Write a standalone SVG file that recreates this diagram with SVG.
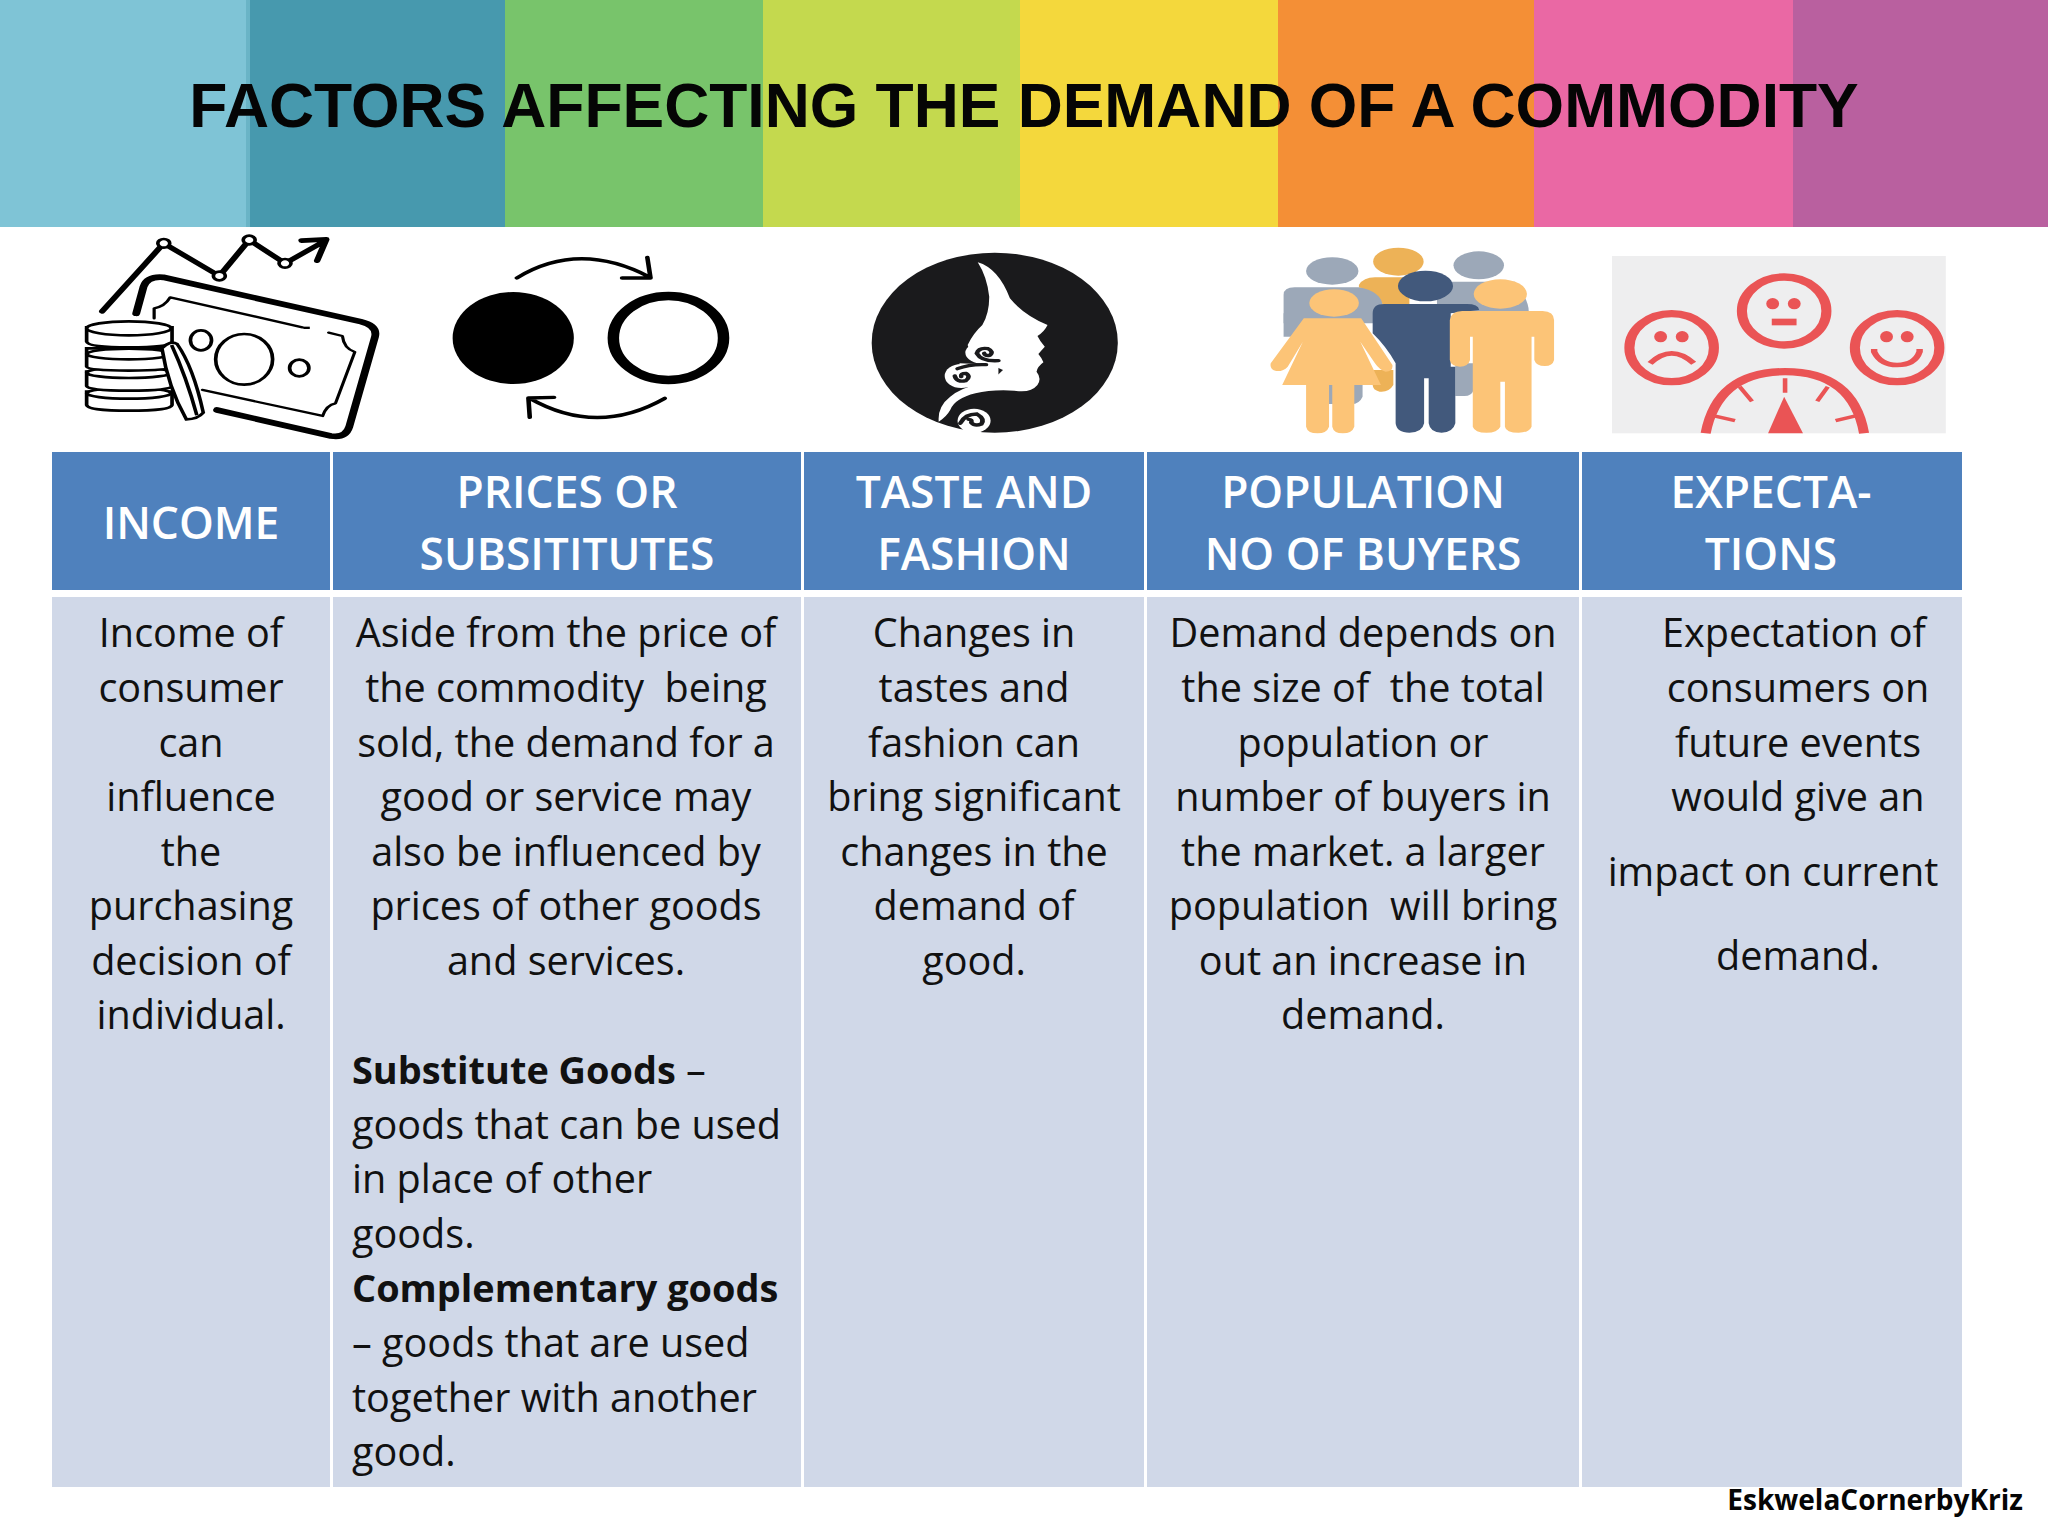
<svg xmlns="http://www.w3.org/2000/svg" width="2048" height="1536" viewBox="0 0 2048 1536">
<style>
text{font-family:"Open Sans","Noto Sans",sans-serif;fill:#111}
.t{font-size:39.6px;text-anchor:middle}
.l{font-size:39.6px}
.b{font-weight:700;font-size:37.9px}
.h{font-size:44.3px;font-weight:600;fill:#fff;text-anchor:middle}
.hb{fill:#4f81bd}
.bb{fill:#d0d8e8}
.k{fill:none;stroke:#000;stroke-linecap:round;stroke-linejoin:round}
.r{fill:none;stroke:#ea5455}
.rf{fill:#ea5455}
</style>
<rect width="2048" height="1536" fill="#fff"/>
<g id="band">
<rect x="0" y="0" width="246" height="227" fill="#7fc4d6"/>
<rect x="246" y="0" width="4" height="227" fill="#6ab4c6"/>
<rect x="250" y="0" width="255" height="227" fill="#4799ae"/>
<rect x="505" y="0" width="258" height="227" fill="#78c46b"/>
<rect x="763" y="0" width="257" height="227" fill="#c4d94e"/>
<rect x="1020" y="0" width="258" height="227" fill="#f4d83c"/>
<rect x="1278" y="0" width="256" height="227" fill="#f48f36"/>
<rect x="1534" y="0" width="259" height="227" fill="#ea68a4"/>
<rect x="1793" y="0" width="255" height="227" fill="#b9609f"/>
</g>
<text id="title" x="1024" y="127" text-anchor="middle" style="font-family:'Liberation Sans',Arial,sans-serif;font-weight:700;font-size:62.4px;fill:#050505">FACTORS AFFECTING THE DEMAND OF A COMMODITY</text>

<g id="icon-income" transform="translate(60,220) scale(.4592,.3333)">
<path class="k" stroke-width="14" d="M92 274L226 70L347 168L412 60L490 130L578 62M526 62L580 58L560 122"/>
<g fill="#fff" stroke="#000" stroke-width="8"><circle cx="226" cy="70" r="13"/><circle cx="347" cy="168" r="13"/><circle cx="412" cy="60" r="13"/><circle cx="490" cy="130" r="13"/></g>
<path class="k" stroke-width="17" d="M166 280L182 200Q190 168 225 172L655 305Q692 318 686 350L630 620Q622 655 590 648L342 570"/>
<path class="k" stroke-width="7" d="M205 295L205 265Q228 260 240 232L528 322M585 338L615 348Q618 385 642 396L600 550Q580 555 572 588L310 510"/>
<g fill="none" stroke="#000" stroke-width="8"><ellipse cx="307" cy="361" rx="23" ry="30"/><ellipse cx="401" cy="418" rx="62" ry="76"/><ellipse cx="521" cy="444" rx="21" ry="25"/></g>
<rect x="530" y="320" width="14" height="7" fill="#000"/>
<g fill="#fff" stroke="#000" stroke-width="8">
<path d="M58 515V555Q60 572 150 572Q242 572 244 555V515Z"/><ellipse cx="150" cy="520" rx="92" ry="16"/>
<path d="M58 455V498Q60 512 150 512Q242 512 244 498V455Z"/><ellipse cx="150" cy="458" rx="92" ry="16"/>
<path d="M58 385V440Q60 452 150 452Q242 452 244 440V385Z"/><ellipse cx="150" cy="402" rx="92" ry="16"/>
<path d="M58 322V365Q60 382 150 382Q242 382 244 365V322Z"/><ellipse cx="150" cy="325" rx="92" ry="21"/>
<path d="M222 385Q240 360 255 372Q290 440 312 578Q300 598 275 598Q235 500 222 385Z"/>
<path d="M243 375Q275 470 298 586" fill="none"/>
</g>
</g>

<g id="icon-prices" transform="translate(60,220) scale(.4592,.3333)">
<ellipse cx="987" cy="354" rx="132" ry="138" fill="#000"/>
<ellipse cx="1325" cy="354" rx="120" ry="126" fill="none" stroke="#000" stroke-width="25"/>
<path class="k" stroke-width="10" d="M995 174Q1130 60 1285 172M1224 174H1286L1279 112"/>
<path class="k" stroke-width="10" d="M1317 535Q1170 650 1023 535M1076 532L1020 534L1023 592"/>
</g>

<g id="icon-taste" transform="translate(840,230) scale(.4592,.3333)">
<ellipse cx="337" cy="338" rx="268" ry="270" fill="#1a1a1c"/>
<path fill="#fff" d="M300 97Q345 115 370 205Q400 255 452 285Q445 305 430 318Q436 335 446 350Q438 362 432 372Q440 385 443 397Q430 410 428 425Q440 445 430 465Q415 490 380 482Q330 478 295 490Q250 505 240 540Q232 560 215 575Q212 530 240 500Q262 475 300 462Q340 445 355 420L330 405Q290 400 278 345Q290 310 310 285Q325 250 325 200Q320 140 300 97Z"/>
<ellipse cx="315" cy="368" rx="42" ry="34" fill="#fff"/>
<ellipse cx="264" cy="438" rx="36" ry="36" fill="#fff"/>
<path fill="#fff" d="M300 402H345V450L280 475L260 400Z"/>
<ellipse cx="292" cy="572" rx="36" ry="36" fill="#fff"/>
<g fill="none" stroke="#1a1a1c" stroke-width="10" stroke-linecap="round">
<path d="M345 392Q308 395 298 370Q302 352 322 356Q336 365 326 376Q316 378 314 370"/>
<path d="M318 404Q282 402 256 416M250 438Q254 458 274 452Q286 440 274 430Q262 430 264 440"/>
<path d="M262 580Q272 552 298 552Q316 566 308 582Q294 590 286 578Q288 568 280 568"/>
</g>
</g>

<g id="icon-population" transform="translate(840,230) scale(.4592,.3333)">
<g fill="#9ca8b8">
<ellipse cx="1072" cy="123" rx="57" ry="41"/><ellipse cx="1391" cy="106" rx="55" ry="42"/>
<path d="M990 172H1160Q1182 172 1182 195V280H966V195Q966 172 990 172Z"/>
<path d="M966 250H1060V320H966Z"/>
<path d="M1020 440H1138V500Q1130 525 1110 522H1040Q1020 520 1020 500Z"/>
<path d="M1300 155H1470Q1500 210 1500 245H1300Z"/>
<path d="M1340 400H1380V480Q1375 498 1360 498H1340Z"/>
</g>
<g fill="#edb257">
<ellipse cx="1216" cy="95" rx="55" ry="42"/>
<path d="M1130 165Q1140 142 1165 142H1240V230H1182Q1180 185 1130 172Z"/>
<path d="M1160 420H1205V465Q1195 488 1175 485Q1160 480 1160 465Z"/>
</g>
<g fill="#42597c">
<ellipse cx="1275" cy="168" rx="60" ry="46"/>
<path d="M1185 222H1365Q1390 222 1392 240L1330 250V410H1340V580Q1335 608 1310 608Q1285 608 1282 580V445H1272V580Q1268 608 1240 608Q1212 608 1210 580V400Q1190 350 1160 310V250Q1160 222 1185 222Z"/>
</g>
<g fill="#fcc477">
<ellipse cx="1076" cy="219" rx="54" ry="41"/>
<ellipse cx="1438" cy="192" rx="58" ry="44"/>
<path d="M1010 265H1135L1203 405Q1205 425 1188 425Q1175 420 1165 400L1133 335L1178 465H1120V590Q1115 610 1095 610Q1075 610 1072 590V465H1065V590Q1060 610 1040 610Q1018 610 1015 590V465H963L1008 335L975 410Q965 425 950 423Q935 418 938 400Z"/>
<path d="M1355 243H1530Q1555 245 1555 270V390Q1552 408 1535 408Q1516 408 1512 390V320H1506V590Q1500 608 1478 608Q1450 608 1448 590V455H1438V590Q1432 608 1408 608Q1382 608 1378 590V320H1372V390Q1368 410 1350 410Q1330 408 1328 390V270Q1330 245 1355 243Z"/>
</g>
</g>

<g id="icon-expectations" transform="translate(1240,230) scale(.4592,.3333)">
<rect x="810" y="78" width="727" height="532" fill="#eeeeef"/>
<g class="r" stroke-width="22">
<ellipse cx="940" cy="353" rx="92" ry="102"/><ellipse cx="1185" cy="243" rx="92" ry="102"/><ellipse cx="1431" cy="353" rx="92" ry="102"/>
</g>
<g class="rf">
<ellipse cx="916" cy="320" rx="14" ry="17"/><ellipse cx="963" cy="320" rx="14" ry="17"/>
<ellipse cx="1160" cy="221" rx="14" ry="17"/><ellipse cx="1207" cy="221" rx="14" ry="17"/><rect x="1158" y="266" width="54" height="20"/>
<ellipse cx="1408" cy="320" rx="14" ry="17"/><ellipse cx="1453" cy="320" rx="14" ry="17"/>
<path d="M1185 500L1226 610H1150Z"/>
</g>
<path class="r" stroke-width="14" d="M893 400Q940 340 988 400"/>
<path class="r" stroke-width="14" d="M1381 357V365Q1395 405 1431 405Q1470 405 1480 365V357"/>
<path class="r" stroke-width="22" d="M1014 610Q1040 425 1187 425Q1335 425 1359 610"/>
<path class="r" stroke-width="10" d="M1187 445V488M1088 470L1115 514M1280 470L1257 514M1030 557L1078 572M1343 557L1297 572"/>
</g>

<g id="col-income">
<rect class="hb" x="52" y="452" width="278" height="138"/>
<rect class="bb" x="52" y="597" width="278" height="890"/>
<text class="h" x="191" y="539">INCOME</text>
<text class="t" x="191"><tspan x="191" y="647">Income of</tspan><tspan x="191" y="702">consumer</tspan><tspan x="191" y="757">can</tspan><tspan x="191" y="811">influence</tspan><tspan x="191" y="866">the</tspan><tspan x="191" y="920">purchasing</tspan><tspan x="191" y="975">decision of</tspan><tspan x="191" y="1029">individual.</tspan></text>
</g>

<g id="col-prices">
<rect class="hb" x="333" y="452" width="468" height="138"/>
<rect class="bb" x="333" y="597" width="468" height="890"/>
<text class="h"><tspan x="567" y="508">PRICES OR</tspan><tspan x="567" y="570">SUBSITITUTES</tspan></text>
<text class="t"><tspan x="566" y="647">Aside from the price of</tspan><tspan x="566" y="702" xml:space="preserve">the commodity  being</tspan><tspan x="566" y="757">sold, the demand for a</tspan><tspan x="566" y="811">good or service may</tspan><tspan x="566" y="866">also be influenced by</tspan><tspan x="566" y="920">prices of other goods</tspan><tspan x="566" y="975">and services.</tspan></text>
<text class="l"><tspan x="352" y="1084" class="b">Substitute Goods</tspan><tspan> –</tspan><tspan x="352" y="1139">goods that can be used</tspan><tspan x="352" y="1193">in place of other</tspan><tspan x="352" y="1248">goods.</tspan><tspan x="352" y="1302" class="b">Complementary goods</tspan><tspan x="352" y="1357">– goods that are used</tspan><tspan x="352" y="1412">together with another</tspan><tspan x="352" y="1466">good.</tspan></text>
</g>

<g id="col-taste">
<rect class="hb" x="804" y="452" width="340" height="138"/>
<rect class="bb" x="804" y="597" width="340" height="890"/>
<text class="h"><tspan x="974" y="508">TASTE AND</tspan><tspan x="974" y="570">FASHION</tspan></text>
<text class="t"><tspan x="974" y="647">Changes in</tspan><tspan x="974" y="702">tastes and</tspan><tspan x="974" y="757">fashion can</tspan><tspan x="974" y="811">bring significant</tspan><tspan x="974" y="866">changes in the</tspan><tspan x="974" y="920">demand of</tspan><tspan x="974" y="975">good.</tspan></text>
</g>

<g id="col-population">
<rect class="hb" x="1147" y="452" width="432" height="138"/>
<rect class="bb" x="1147" y="597" width="432" height="890"/>
<text class="h"><tspan x="1363" y="508">POPULATION</tspan><tspan x="1363" y="570">NO OF BUYERS</tspan></text>
<text class="t"><tspan x="1363" y="647">Demand depends on</tspan><tspan x="1363" y="702" xml:space="preserve">the size of  the total</tspan><tspan x="1363" y="757">population or</tspan><tspan x="1363" y="811">number of buyers in</tspan><tspan x="1363" y="866">the market. a larger</tspan><tspan x="1363" y="920" xml:space="preserve">population  will bring</tspan><tspan x="1363" y="975">out an increase in</tspan><tspan x="1363" y="1029">demand.</tspan></text>
</g>

<g id="col-expectations">
<rect class="hb" x="1582" y="452" width="380" height="138"/>
<rect class="bb" x="1582" y="597" width="380" height="890"/>
<text class="h"><tspan x="1771" y="508">EXPECTA-</tspan><tspan x="1771" y="570">TIONS</tspan></text>
<text class="t"><tspan x="1794" y="647">Expectation of</tspan><tspan x="1798" y="702">consumers on</tspan><tspan x="1798" y="757">future events</tspan><tspan x="1798" y="811">would give an</tspan><tspan x="1773" y="886">impact on current</tspan><tspan x="1798" y="970">demand.</tspan></text>
</g>

<text id="credit" x="2023" y="1510" text-anchor="end" style="font-size:28px;font-weight:700;fill:#050505">EskwelaCornerbyKriz</text>
</svg>
